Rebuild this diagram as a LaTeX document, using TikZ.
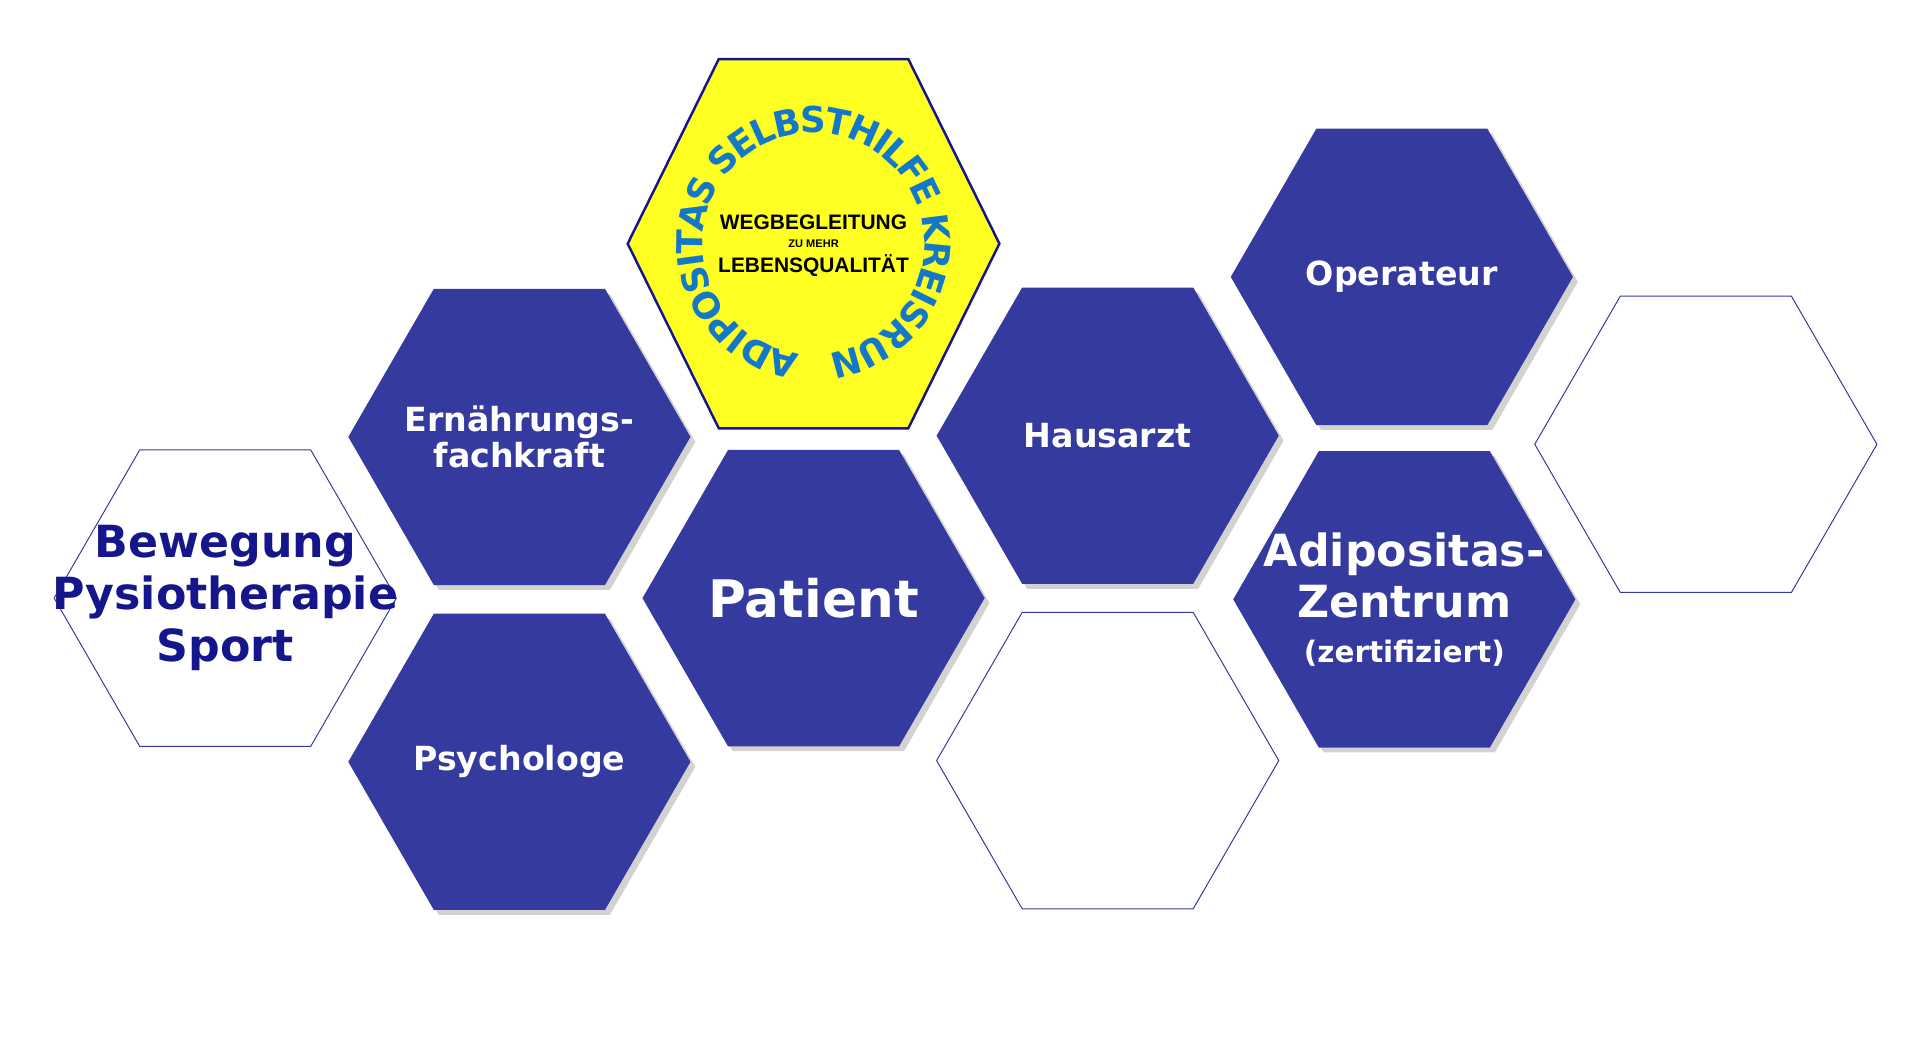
\documentclass[tikz,border=0pt]{standalone}
\usepackage{fontspec}
\setmainfont{DejaVu Sans}
\newfontfamily\logobold{DejaVu Sans}[UprightFont=* Bold]
\newfontfamily\logoblack{Liberation Sans}[UprightFont=* Bold]
\usepackage{tikz}
\usetikzlibrary{shapes.geometric, shadows, decorations.text}
\definecolor{hexblue}{HTML}{353A9F}
\definecolor{navy}{HTML}{16168C}
\definecolor{logoblue}{HTML}{1478C8}
\definecolor{logoyellow}{HTML}{FFFF22}

\begin{document}
\begin{tikzpicture}[x=0.5pt,y=0.5pt,
        hexbox/.style={regular polygon, regular polygon sides=6, minimum size=139pt, inner sep=0pt, outer sep=0pt},
        filled/.style={hexbox, fill=hexblue, drop shadow={fill=black!35, shadow xshift=2pt, shadow yshift=-2pt}},
        empty/.style={hexbox, draw=hexblue, fill=white},
        hexlabel/.style={align=center, text=white, font=\bfseries\fontsize{13.5}{14}\selectfont},
        biglabel/.style={align=center, text=navy, font=\bfseries\fontsize{18}{21}\selectfont}]
    \useasboundingbox (0,0) rectangle (1560,845);

    \node[empty] (bewegung) at (183,359) {};
    \node[filled] (ernaehrung) at (422,490) {};
    \node[filled] (psychologe) at (422,226) {};
    \node[filled] (patient) at (661,359) {};
    \node[filled] (hausarzt) at (900,491) {};
    \node[empty] (leer1) at (900,227) {};
    \node[filled] (operateur) at (1139,620) {};
    \node[filled] (zentrum) at (1141,358) {};
    \node[empty] (leer2) at (1386,484) {};

    \node[biglabel] (bewegung-text) at (bewegung) {Bewegung\\Pysiotherapie\\Sport};
    \node[hexlabel, font=\bfseries\fontsize{13.5}{15}\selectfont] (ernaehrung-text) at (ernaehrung) {Ernährungs-\\fachkraft};
    \node[hexlabel] (psychologe-text) at (psychologe) {Psychologe};
    \node[hexlabel, font=\bfseries\fontsize{21}{22}\selectfont] (patient-text) at (patient) {Patient};
    \node[hexlabel] (hausarzt-text) at (hausarzt) {Hausarzt};
    \node[hexlabel] (operateur-text) at (operateur) {Operateur};
    \node[hexlabel, font=\bfseries\fontsize{18}{21}\selectfont] (zentrum-text) at (zentrum) {Adipositas-\\Zentrum\\[-3pt]{\fontsize{12}{14}\selectfont(zertifiziert)}};

    % logo
    \coordinate (logo) at (661,647);
    \draw[fill=logoyellow, draw=navy, line width=1pt]
        (logo) ++(-151,0) -- ++(74,150) -- ++(154,0) -- ++(74,-150)
        -- ++(-74,-150) -- ++(-154,0) -- cycle;
    \path[decorate, decoration={text along path, text align={fit to path}, raise=-5pt,
            text={|\logobold\fontsize{14.5}{14.5}\selectfont\color{logoblue}|ADIPOSITAS SELBSTHILFE KREISRUND}}]
        (logo) ++(262:100) arc[start angle=262, end angle=-78, radius=100];
    \node[font=\logoblack\fontsize{8.5}{9}\selectfont] (weg) at ([yshift=8.5pt]logo) {WEGBEGLEITUNG};
    \node[font=\logoblack\fontsize{4.5}{5}\selectfont] (zu) at (logo) {ZU MEHR};
    \node[font=\logoblack\fontsize{8.5}{9}\selectfont] (lebens) at ([yshift=-9pt]logo) {LEBENSQUALITÄT};
\end{tikzpicture}
\end{document}
